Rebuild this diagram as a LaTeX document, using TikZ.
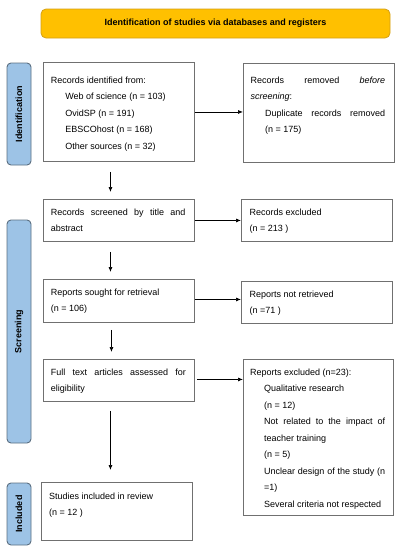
\documentclass[tikz,border=0pt]{standalone}
\usepackage{fontspec}
\setmainfont{Liberation Sans}
\usetikzlibrary{arrows.meta,calc}
\definecolor{hdrfill}{HTML}{FFC000}
\definecolor{hdrdraw}{HTML}{D4A017}
\definecolor{sidefill}{HTML}{9DC3E6}
\definecolor{sidedraw}{HTML}{5A6E80}
\definecolor{boxdraw}{HTML}{707070}
\tikzset{
  every node/.style={font=\fontsize{9}{16.5}\selectfont},
  box/.style={draw=boxdraw, line width=0.9pt, anchor=north west, inner sep=0pt},
  txt/.style={anchor=north west, inner sep=0pt, align=left},
  side/.style={draw=sidedraw, fill=sidefill, rounded corners=4pt, line width=0.9pt, rotate=90, inner sep=0pt, font=\fontsize{9}{11}\selectfont\bfseries},
  hdr/.style={draw=hdrdraw, fill=hdrfill, rounded corners=5pt, line width=0.8pt, inner sep=0pt, font=\fontsize{9}{11}\selectfont\bfseries},
  arr/.style={-{Latex[length=5pt,width=4pt]}, line width=0.7pt, black}
}
\newcommand{\st}{\rule{0pt}{7pt}}
\begin{document}
\begin{tikzpicture}[x=1pt,y=-1pt]
\useasboundingbox (0,0) rectangle (401,550);
% header
\node[hdr, minimum width=349pt, minimum height=29pt] (hdr) at (215.5,23.5) {Identification of studies via databases and registers};
% side labels
\node[side, minimum width=102pt, minimum height=24pt] (sid) at (19,114) {Identification};
\node[side, minimum width=223pt, minimum height=24pt] (sscr) at (19,331.5) {Screening};
\node[side, minimum width=62pt, minimum height=24pt] (sinc) at (19,514) {Included};
% boxes
\node[box, minimum width=151pt, minimum height=99pt] (b1) at (43,62) {};
\node[box, minimum width=151pt, minimum height=99pt] (rem) at (243,63) {};
\node[box, minimum width=151pt, minimum height=42pt] (scr) at (43,199) {};
\node[box, minimum width=151pt, minimum height=42pt] (exc) at (241,199) {};
\node[box, minimum width=151pt, minimum height=43pt] (sou) at (43,279) {};
\node[box, minimum width=151pt, minimum height=42pt] (nre) at (241,281) {};
\node[box, minimum width=151pt, minimum height=42pt] (ful) at (43,359) {};
\node[box, minimum width=150pt, minimum height=156pt] (rex) at (243,359) {};
\node[box, minimum width=151pt, minimum height=58pt] (inc) at (41,482) {};
% texts
\node[txt] (b1t) at (50.7,76) {\st Records identified from:\\
\hspace*{14.5pt}Web of science (n = 103)\\
\hspace*{14.5pt}OvidSP (n = 191)\\
\hspace*{14.5pt}EBSCOhost (n = 168)\\
\hspace*{14.5pt}Other sources (n = 32)};
\node[txt] (remt) at (250.5,76) {\st\makebox[134.5pt][s]{Records removed \textit{before}}\\
\textit{screening}:\\
\hspace*{14.5pt}\makebox[120pt][s]{Duplicate records removed}\\
\hspace*{14.5pt}(n = 175)};
\node[txt] (scrt) at (50.7,208) {\st\makebox[134.6pt][s]{Records screened by title and}\\
abstract};
\node[txt] (exct) at (249.5,208) {\st Records excluded\\
(n = 213 )};
\node[txt] (sout) at (50.7,288) {\st Reports sought for retrieval\\
(n = 106)};
\node[txt] (nret) at (249.5,290) {\st Reports not retrieved\\
(n =71 )};
\node[txt] (fult) at (50.7,368) {\st\makebox[135pt][s]{Full text articles assessed for}\\
eligibility};
\node[txt] (rext) at (250,368) {\st Reports excluded (n=23):\\
\hspace*{14pt}Qualitative research\\
\hspace*{14pt}(n = 12)\\
\hspace*{14pt}\makebox[121pt][s]{Not related to the impact of}\\
\hspace*{14pt}teacher training\\
\hspace*{14pt}(n = 5)\\
\hspace*{14pt}\makebox[121pt][s]{Unclear design of the study (n}\\
\hspace*{14pt}=1)\\
\hspace*{14pt}Several criteria not respected};
\node[txt] (inct) at (49,492) {\st Studies included in review\\
(n = 12 )};
% horizontal arrows
\draw[arr] (b1.east) -- (b1.east -| rem.west);
\draw[arr] (scr.east) -- (scr.east -| exc.west);
\draw[arr] ([yshift=1.5pt]sou.east) -- ([yshift=1.5pt]sou.east -| nre.west);
\draw[arr] ([xshift=2pt,yshift=1pt]ful.east) -- ([yshift=1pt]ful.east -| rex.west);
% vertical arrows
\draw[arr, shorten <=10pt, shorten >=7pt] ([xshift=-8.5pt]b1.south) -- ([xshift=-8.5pt]scr.north);
\draw[arr, shorten <=10pt, shorten >=7pt] ([xshift=-8.5pt]scr.south) -- ([xshift=-8.5pt]sou.north);
\draw[arr, shorten <=7pt, shorten >=7pt] ([xshift=-7.5pt]sou.south) -- ([xshift=-7.5pt]ful.north);
\draw[arr, shorten <=9pt, shorten >=12pt] ([xshift=-8.5pt]ful.south) -- ([xshift=-6.5pt]inc.north);
\end{tikzpicture}
\end{document}
